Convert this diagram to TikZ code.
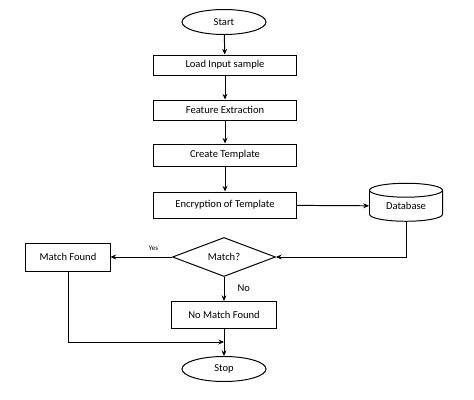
\documentclass[tikz,border=0pt]{standalone}
\usepackage{fontspec}
\setmainfont{Carlito}
\usetikzlibrary{arrows.meta,shapes.geometric}

\begin{document}
\begin{tikzpicture}[x=0.025cm,y=-0.025cm,
    font=\fontsize{7.5}{9}\selectfont,
    line width=0.7pt,
    proc/.style={draw, rectangle, minimum width=3.575cm, minimum height=0.5cm, inner sep=1pt},
    term/.style={draw, ellipse, minimum width=2.1cm, minimum height=0.625cm, inner sep=0pt},
    arr/.style={-{Stealth[black,length=4pt,width=3.5pt]}}]
        \useasboundingbox (0,0) rectangle (474,400);
        \node[term] (start) at (224, 22) {Start};
        \node[proc] (load) at (225, 65) {Load Input sample};
        \node[proc] (feat) at (225, 110) {Feature Extraction};
        \node[proc, minimum height=0.55cm] (create) at (225, 155) {Create Template};
        \node[proc, minimum height=0.65cm] (encrypt) at (225, 205) {Encryption of Template};
        \node[draw, cylinder, shape border rotate=90, aspect=0.35, minimum width=1.825cm, minimum height=0.95cm, inner sep=0pt] (db) at (406, 206) {Database};
        \node[draw, diamond, aspect=2.6, minimum width=2.575cm, minimum height=0.975cm, inner sep=0pt] (match) at (224, 257) {Match?};
        \node[proc, minimum width=2.1cm, minimum height=0.7cm] (found) at (68, 257) {Match Found};
        \node[proc, minimum width=2.6cm, minimum height=0.675cm] (nofound) at (224, 315) {No Match Found};
        \node[term] (stop) at (224, 369) {Stop};
        \coordinate (join) at (224, 342);
        \draw[arr] (start) -- (load);
        \draw[arr] (load) -- (feat);
        \draw[arr] (feat) -- (create);
        \draw[arr] (create) -- (encrypt);
        \draw[arr] (encrypt) -- (db);
        \draw[arr] (db.south) |- (match.east);
        \draw[arr] (match) -- node[above, pos=0.3, font=\fontsize{5}{6}\selectfont, yshift=1pt] {Yes} (found);
        \draw[arr] (match) -- node[right, pos=0.45, xshift=6pt] {No} (nofound);
        \draw[arr] (found.south) |- (join);
        \draw[arr] (nofound) -- (stop);
\end{tikzpicture}
\end{document}
